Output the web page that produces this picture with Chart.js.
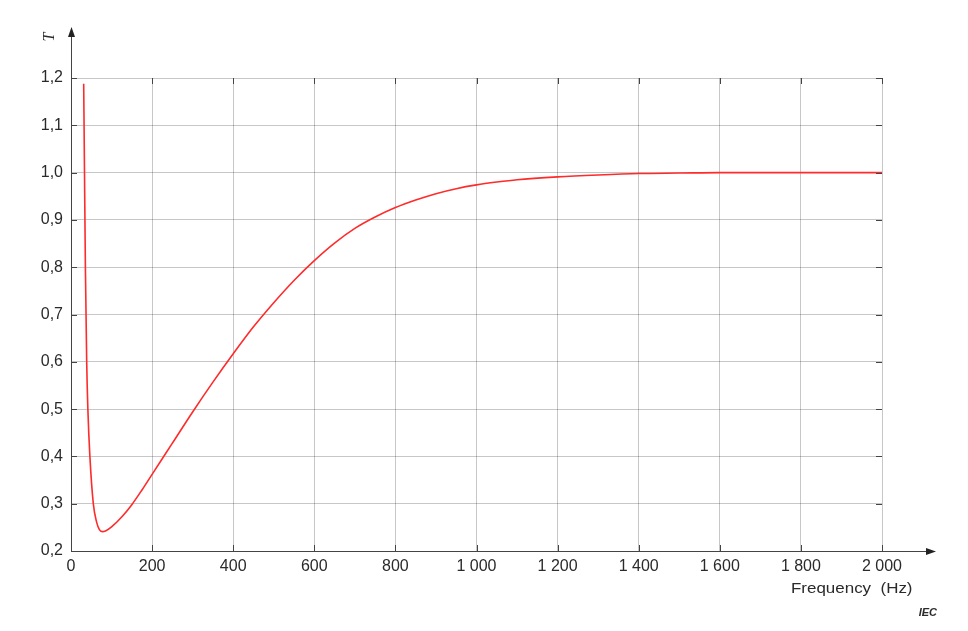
<!DOCTYPE html>
<html>
<head>
<meta charset="utf-8">
<script src="https://cdn.jsdelivr.net/npm/chart.js@4/dist/chart.umd.min.js"></script>
<style>
  html, body { margin: 0; padding: 0; background: #fff; }
  #wrap { width: 968px; height: 631px; }
</style>
</head>
<body>
<div id="wrap"><canvas id="tChart" width="968" height="631"></canvas></div>
<script>
// frequency (Hz) and T
const freq = [31.3, 33.3, 35.5, 38.7, 41.6, 46.6, 55, 63.5, 70, 77, 85, 100, 125, 150, 175, 200,
  250, 300, 350, 400, 450, 500, 550, 600, 650, 700, 750, 800, 850, 900, 950, 1000, 1050, 1100,
  1200, 1300, 1400, 1500, 1600, 1800, 2000];
const transT = [1.188, 1.0, 0.8, 0.6, 0.5, 0.4, 0.3, 0.26, 0.245, 0.241, 0.2425, 0.251, 0.272,
  0.298, 0.329, 0.362, 0.428, 0.494, 0.557, 0.617, 0.674, 0.725, 0.772, 0.814, 0.851, 0.882,
  0.906, 0.926, 0.942, 0.9555, 0.966, 0.974, 0.98, 0.985, 0.991, 0.995, 0.998, 0.999, 1.0, 1.0, 1.0];

const xTicks = [0, 200, 400, 600, 800, 1000, 1200, 1400, 1600, 1800, 2000];
const yTicks = [0.2, 0.3, 0.4, 0.5, 0.6, 0.7, 0.8, 0.9, 1.0, 1.1, 1.2];

const textColor = '#2a2a2a';
const axisColor = '#444';

const fmtX = v => String(v).replace(/\B(?=(\d{3})+(?!\d))/g, ' ');
const fmtY = v => v.toFixed(1).replace('.', ',');

// axis arrows, inner tick marks and free labels
const decor = {
  id: 'decor',
  afterDraw(chart) {
    const { ctx, chartArea: a, scales } = chart;
    ctx.save();
    ctx.strokeStyle = axisColor;
    ctx.fillStyle = '#222';
    ctx.lineWidth = 1;

    // inner tick marks
    ctx.beginPath();
    yTicks.forEach(t => {
      const y = Math.round(scales.y.getPixelForValue(t)) + 0.5;
      ctx.moveTo(a.left, y); ctx.lineTo(a.left + 6, y);
      ctx.moveTo(a.right - 6, y); ctx.lineTo(a.right, y);
    });
    xTicks.forEach(t => {
      const x = Math.round(scales.x.getPixelForValue(t)) + 0.5;
      ctx.moveTo(x, a.bottom); ctx.lineTo(x, a.bottom - 6);
      ctx.moveTo(x, a.top); ctx.lineTo(x, a.top + 6);
    });
    ctx.stroke();

    // extended axes with arrows
    const x0 = Math.round(a.left) + 0.5;
    const y0 = Math.round(a.bottom) + 0.5;
    ctx.beginPath();
    ctx.moveTo(x0, a.top); ctx.lineTo(x0, 34);
    ctx.moveTo(a.right, y0); ctx.lineTo(928, y0);
    ctx.stroke();
    ctx.beginPath();
    ctx.moveTo(x0, 27); ctx.lineTo(x0 - 3.5, 37); ctx.lineTo(x0 + 3.5, 37); ctx.closePath();
    ctx.fill();
    ctx.beginPath();
    ctx.moveTo(936, y0); ctx.lineTo(926, y0 - 3.5); ctx.lineTo(926, y0 + 3.5); ctx.closePath();
    ctx.fill();

    // labels
    ctx.fillStyle = textColor;
    ctx.textBaseline = 'middle';
    ctx.save();
    ctx.translate(50, 37);
    ctx.rotate(-Math.PI / 2);
    ctx.font = 'italic 16px "Liberation Serif", serif';
    ctx.textAlign = 'center';
    ctx.fillText('T', 0, 0);
    ctx.restore();

    ctx.save();
    ctx.translate(791, 589);
    ctx.scale(1.13, 1);
    ctx.font = '15px "Liberation Sans", Arial, sans-serif';
    ctx.textAlign = 'left';
    ctx.fillText('Frequency  (Hz)', 0, 0);
    ctx.restore();

    ctx.font = 'italic bold 11px "Liberation Sans", Arial, sans-serif';
    ctx.textAlign = 'right';
    ctx.fillText('IEC', 937, 613);
    ctx.restore();
  }
};

new Chart(document.getElementById('tChart'), {
  type: 'line',
  data: {
    datasets: [{
      data: freq.map((f, i) => ({ x: f, y: transT[i] })),
      borderColor: '#ff2a2a',
      borderWidth: 1.6,
      pointRadius: 0,
      fill: false,
      cubicInterpolationMode: 'monotone'
    }]
  },
  options: {
    responsive: false,
    animation: false,
    layout: { padding: { top: 78, right: 86, left: 0, bottom: 0 } },
    plugins: { legend: { display: false }, tooltip: { enabled: false } },
    scales: {
      x: {
        type: 'linear',
        min: 0, max: 2000,
        afterFit: s => { s.height = 80; },
        afterBuildTicks: s => { s.ticks = xTicks.map(v => ({ value: v })); },
        grid: { color: 'rgba(0,0,0,0.22)', drawTicks: false },
        border: { color: axisColor },
        ticks: {
          padding: 6, autoSkip: false, maxRotation: 0, color: textColor,
          font: { family: '"Liberation Sans", Arial, sans-serif', size: 16 },
          callback: v => fmtX(v)
        }
      },
      y: {
        min: 0.2, max: 1.2,
        afterFit: s => { s.width = 71; },
        afterBuildTicks: s => { s.ticks = yTicks.map(v => ({ value: v })); },
        grid: { color: 'rgba(0,0,0,0.22)', drawTicks: false },
        border: { color: axisColor },
        ticks: {
          padding: 8, color: textColor,
          font: { family: '"Liberation Sans", Arial, sans-serif', size: 16 },
          callback: v => fmtY(v)
        }
      }
    }
  },
  plugins: [decor]
});
</script>
</body>
</html>
